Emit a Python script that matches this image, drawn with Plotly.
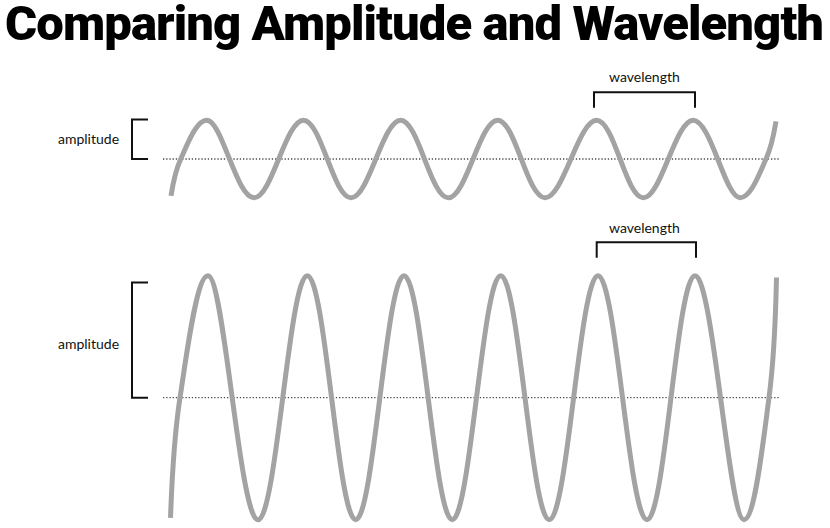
import plotly.graph_objects as go

# --- data (x: horizontal distance, y: displacement in amplitude units)
top_x = [171, 180.7, 207, 254, 303.5, 351, 400.7, 448.3, 497.7, 545, 596.7, 643.3, 693.3, 740, 766, 776]
top_y = [-0.95, 0, 1, -1, 1, -1, 1, -1, 1, -1, 1, -1, 1, -1, 0, 0.97]

bot_x = [170.5, 180, 208, 258, 307.3, 355.7, 404, 452.3, 500.7, 549.3, 598, 647, 695, 744, 769, 776.5]
bot_y = [-3.1, 0, 3.15, -3.15, 3.15, -3.15, 3.15, -3.15, 3.15, -3.15, 3.15, -3.15, 3.15, -3.15, 0, 3.1]

baseline_x = [163, 779]
baseline_y = [0, 0]

# brackets
top_amp_x = [148, 132, 132, 148]
top_amp_y = [1.02, 1.02, 0, 0]
bot_amp_x = [148, 132, 132, 148]
bot_amp_y = [2.97, 2.97, 0, 0]

top_wl_x = [594, 594, 695, 695]
top_wl_y = [1.32, 1.72, 1.72, 1.32]
bot_wl_x = [596.7, 596.7, 696, 696]
bot_wl_y = [3.61, 4.01, 4.01, 3.61]

# label positions
amp_label_x = 121
amp_label_y = [0.53, 1.40]   # top, bottom
wl_label_x = 644
wl_label_y = [2.12, 4.38]

TITLE = "Comparing Amplitude and Wavelength"

# --- layout constants
W, H = 830, 528
PX = 38.75            # pixels per amplitude unit (same for both panels)
TOP_BASE = 159        # pixel row of the top baseline
BOT_BASE = 397.7      # pixel row of the bottom baseline
SPLIT = 221.76        # pixel row where the panels meet

WAVE = "#a3a3a3"
INK = "#111111"
LABEL_FONT = dict(family="Lato, 'Open Sans', sans-serif", size=14, color=INK)

fig = go.Figure()


def add_panel(wx, wy, ax, ay, lx, ly, xa, ya):
    fig.add_trace(go.Scatter(x=baseline_x, y=baseline_y, mode="lines",
                             line=dict(color="#4a4a4a", width=1.3, dash="1.3px,1.9px"),
                             xaxis=xa, yaxis=ya, hoverinfo="skip"))
    fig.add_trace(go.Scatter(x=wx, y=wy, mode="lines",
                             line=dict(color=WAVE, width=5, shape="spline", smoothing=1.1),
                             xaxis=xa, yaxis=ya))
    for bx, by in ((ax, ay), (lx, ly)):
        fig.add_trace(go.Scatter(x=bx, y=by, mode="lines",
                                 line=dict(color=INK, width=2),
                                 xaxis=xa, yaxis=ya, hoverinfo="skip"))


add_panel(top_x, top_y, top_amp_x, top_amp_y, top_wl_x, top_wl_y, "x", "y")
add_panel(bot_x, bot_y, bot_amp_x, bot_amp_y, bot_wl_x, bot_wl_y, "x2", "y2")

for i, (xa, ya) in enumerate((("x", "y"), ("x2", "y2"))):
    fig.add_annotation(x=amp_label_x, y=amp_label_y[i], xref=xa, yref=ya,
                       text="amplitude", showarrow=False, xanchor="right",
                       yanchor="middle", font=LABEL_FONT)
    fig.add_annotation(x=wl_label_x, y=wl_label_y[i], xref=xa, yref=ya,
                       text="wavelength", showarrow=False, xanchor="center",
                       yanchor="middle", font=LABEL_FONT)

# condensed heavy headline: no condensed face is installed, so tighten Roboto Black
fig.add_annotation(x=0.004, y=1.014, xref="paper", yref="paper",
                   text=f"<span style='letter-spacing:-0.9px'>{TITLE}</span>",
                   showarrow=False, xanchor="left", yanchor="top",
                   font=dict(family="Roboto, 'Liberation Sans', sans-serif",
                             size=49, color="#000000", weight=900))

split_frac = 1 - SPLIT / H
hidden = dict(visible=False, fixedrange=True)
fig.update_layout(
    width=W, height=H,
    margin=dict(l=0, r=0, t=0, b=0),
    paper_bgcolor="white", plot_bgcolor="white",
    showlegend=False,
    xaxis=dict(range=[0, W], domain=[0, 1], anchor="y", **hidden),
    xaxis2=dict(range=[0, W], domain=[0, 1], anchor="y2", **hidden),
    yaxis=dict(domain=[split_frac, 1], anchor="x",
               range=[(TOP_BASE - SPLIT) / PX, TOP_BASE / PX], **hidden),
    yaxis2=dict(domain=[0, split_frac], anchor="x2",
                range=[(BOT_BASE - H) / PX, (BOT_BASE - SPLIT) / PX], **hidden),
)

# the page's default body margin would push the figure 8px off the window
fig.write_html("out.html", config={"displayModeBar": False},
               post_script="document.body.style.margin='0';")
